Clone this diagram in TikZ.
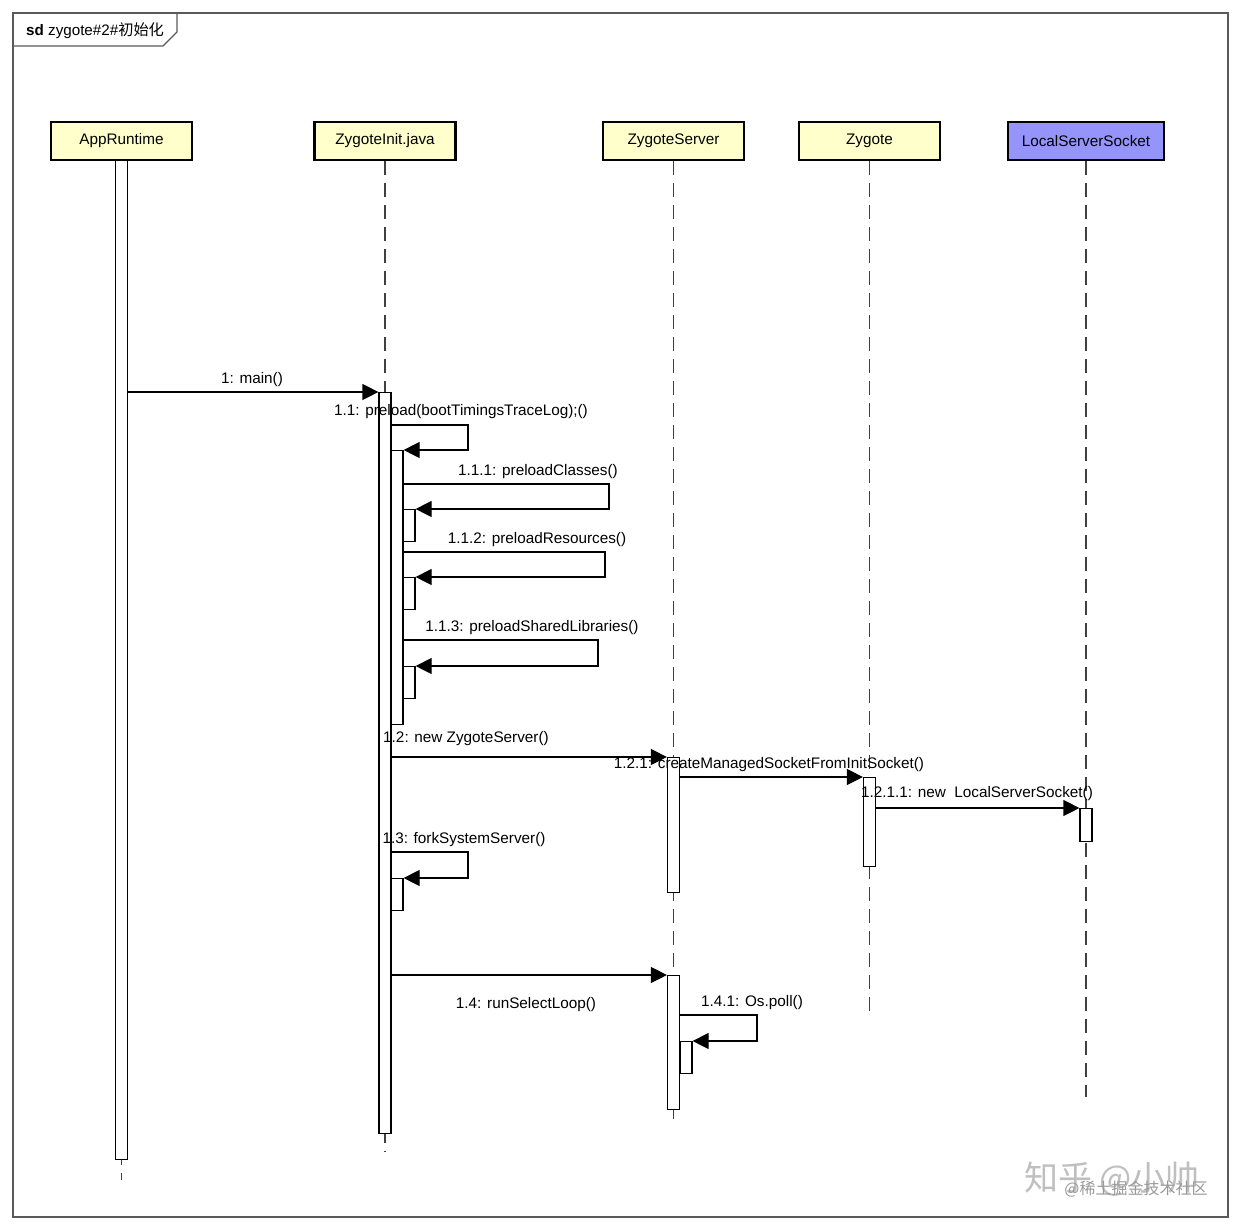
\documentclass[tikz,border=0pt]{standalone}
\usepackage{fontspec}
\setmainfont{Liberation Sans}
\newfontfamily\cjk{Noto Sans CJK SC}
\usetikzlibrary{positioning,calc,arrows.meta}
\definecolor{headyellow}{RGB}{255,255,204}
\definecolor{headblue}{RGB}{148,148,250}
\definecolor{framegray}{RGB}{90,90,90}
\tikzset{font=\fontsize{15.3}{18}\selectfont}

\begin{document}
\begin{tikzpicture}[x=1pt, y=-1pt]
	\useasboundingbox (0,0) rectangle (1240,1229);
	\tikzstyle{every node}=[align=center, inner sep=1pt]
	\tikzstyle{head}=[draw, line width=2.8pt, fill=headyellow, minimum width=141pt, minimum height=38pt, inner sep=0pt]
	\tikzstyle{life}=[line width=1.3pt, dash pattern=on 14pt off 8pt, draw=black!75]
	\tikzstyle{act}=[draw, line width=1.2pt, fill=white, minimum width=12pt, inner sep=0pt, anchor=north]
	\tikzstyle{msg}=[line width=1.2pt, -{Triangle[length=16pt,width=16pt]}]

	% frame
	\draw[framegray, line width=1.5pt] (13,13) rectangle (1228,1217);
	\draw[framegray, line width=1.3pt] (13,46) -- (163,46) -- (177,32) -- (177,13);
	\node[anchor=west, font=\fontsize{15.2}{17}\selectfont] (title) at (25,31) {\textbf{sd} zygote\#2\#{\cjk 初始化}};

	% lifeline heads
	\node[head] (app) at (121.5,141) {AppRuntime};
	\node[head] (init) at (385,141) {ZygoteInit.java};
	\node[head] (srv) at (673.5,141) {ZygoteServer};
	\node[head] (zy) at (869.5,141) {\raisebox{3pt}{Zygote}};
	\node[head, fill=headblue, minimum width=156pt] (lss) at (1086,141) {LocalServerSocket};

	\coordinate (appEnd) at (121.5,1180);
	\coordinate (initEnd) at (385,1152);
	\coordinate (srvEnd) at (673.5,1119);
	\coordinate (zyEnd) at (869.5,1017);
	\coordinate (lssEnd) at (1086,1097);

	\draw[life] (app.south) -- (appEnd);
	\draw[life] (init.south) -- (initEnd);
	\draw[life] (srv.south) -- (srvEnd);
	\draw[life] (zy.south) -- (zyEnd);
	\draw[life] (lss.south) -- (lssEnd);

	% activations
	\node[act, minimum height=999pt] (appAct) at (121.5,160) {};
	\node[act, minimum height=741pt] (initAct) at (385,392) {};
	\node[act, minimum height=274pt] (preAct) at (397,450) {};
	\node[act, minimum height=32pt] (clsAct) at (409,509) {};
	\node[act, minimum height=32pt] (resAct) at (409,577) {};
	\node[act, minimum height=32pt] (libAct) at (409,666) {};
	\node[act, minimum height=32pt] (forkAct) at (397,878) {};
	\node[act, minimum height=135pt] (srvAct) at (673.5,757) {};
	\node[act, minimum height=134pt] (loopAct) at (673.5,975) {};
	\node[act, minimum height=32pt] (pollAct) at (686,1041) {};
	\node[act, minimum height=89pt] (zyAct) at (869.5,777) {};
	\node[act, minimum height=33pt] (lssAct) at (1086,808) {};

	% messages
	\coordinate (c11) at (391,425);
	\coordinate (c111) at (403,484);
	\coordinate (c112) at (403,552);
	\coordinate (c113) at (403,640);
	\coordinate (c13) at (391,852);
	\coordinate (c141) at (680,1015);

	\draw[msg] (appAct.east |- initAct.north) -- (initAct.north west);
	\draw[msg] (c11) -- ++(77,0) |- (preAct.north east);
	\draw[msg] (c111) -- ++(206,0) |- (clsAct.north east);
	\draw[msg] (c112) -- ++(202,0) |- (resAct.north east);
	\draw[msg] (c113) -- ++(195,0) |- (libAct.north east);
	\draw[msg] (initAct.east |- srvAct.north) -- (srvAct.north west);
	\draw[msg] (srvAct.east |- zyAct.north) -- (zyAct.north west);
	\draw[msg] (zyAct.east |- lssAct.north) -- (lssAct.north west);
	\draw[msg] (c13) -- ++(77,0) |- (forkAct.north east);
	\draw[msg] (initAct.east |- loopAct.north) -- (loopAct.north west);
	\draw[msg] (c141) -- ++(77,0) |- (pollAct.north east);

	% labels
	\node (l1) at (252,380) {1: main()};
	\node (l11) at (461,412) {1.1: preload(bootTimingsTraceLog);()};
	\node (l111) at (538,472) {1.1.1: preloadClasses()};
	\node (l112) at (537,540) {1.1.2: preloadResources()};
	\node (l113) at (532,628) {1.1.3: preloadSharedLibraries()};
	\node (l12) at (466,739) {1.2: new ZygoteServer()};
	\node (l121) at (769,765) {1.2.1: createManagedSocketFromInitSocket()};
	\node (l1211) at (977,794) {1.2.1.1: new\ \ LocalServerSocket()};
	\node (l13) at (464,840) {1.3: forkSystemServer()};
	\node (l14) at (526,1005) {1.4: runSelectLoop()};
	\node (l141) at (752,1003) {1.4.1: Os.poll()};

	% watermark
	\node[text=black!25, font=\cjk\fontsize{34}{34}\selectfont] (wm) at (1112,1179) {知乎 @小帅};
	\node[text=black!40, font=\cjk\fontsize{16}{16}\selectfont] (wm2) at (1136,1189) {@稀土掘金技术社区};
\end{tikzpicture}
\end{document}
